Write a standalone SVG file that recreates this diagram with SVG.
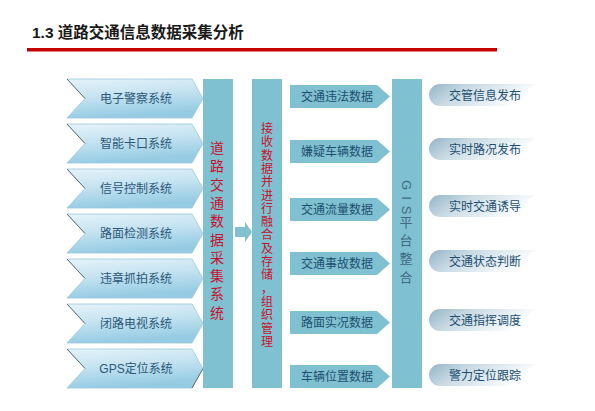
<svg xmlns="http://www.w3.org/2000/svg" width="595" height="411" viewBox="0 0 595 411">
<defs>
<linearGradient id="gChev" x1="0" y1="0" x2="0.25" y2="1">
<stop offset="0" stop-color="#e6f3fa"/>
<stop offset="0.5" stop-color="#c3e2f0"/>
<stop offset="1" stop-color="#95cbe3"/>
</linearGradient>
<linearGradient id="gLeaf" x1="0" y1="0" x2="1" y2="0.3">
<stop offset="0" stop-color="#93b3c6"/>
<stop offset="0.35" stop-color="#c6d9e3"/>
<stop offset="0.8" stop-color="#eef4f7"/>
<stop offset="1" stop-color="#ffffff"/>
</linearGradient>
<style>
text{font-family:"Liberation Sans","Noto Sans CJK SC",sans-serif;}
.bar{fill:#80c1d1;}
.chev{fill:url(#gChev);stroke:#9cc8da;stroke-width:0.8;}
.chevEdge{fill:none;stroke:#4a4a4a;stroke-width:1;opacity:0.75;}
.ct{font-size:12px;fill:#2c5877;text-anchor:middle;}
.pent{fill:#80c1d1;}
.pt{font-size:12px;fill:#1e4f70;text-anchor:middle;}
.leaf{fill:url(#gLeaf);}
.lt{font-size:12px;fill:#1e4f70;text-anchor:middle;}
.rv{font-size:14px;fill:#c8102e;text-anchor:middle;dominant-baseline:central;}
.rv2{font-size:12px;fill:#c8102e;text-anchor:middle;dominant-baseline:central;}
.gv{font-size:13px;fill:#3f6a84;text-anchor:middle;dominant-baseline:central;}
</style>
</defs>
<rect width="595" height="411" fill="#ffffff"/>
<g id="title">
<text x="32" y="37.5" font-size="15.5" font-weight="bold" fill="#1a1a1a">1.3 道路交通信息数据采集分析</text>
<rect x="27" y="48" width="470" height="3.5" fill="#c40000"/>
</g>

<g id="sources">
<g id="s1"><path class="chev" d="M67,79 H192 L203,98.5 L192,118 H67 L85,98.5 Z"/><path class="chevEdge" d="M67,79 L85,98.5"/><text class="ct" x="136" y="103">电子警察系统</text></g>
<g id="s2"><path class="chev" d="M67,124 H192 L203,143.5 L192,163 H67 L85,143.5 Z"/><path class="chevEdge" d="M67,124 L85,143.5"/><text class="ct" x="136" y="148">智能卡口系统</text></g>
<g id="s3"><path class="chev" d="M67,169 H192 L203,188.5 L192,208 H67 L85,188.5 Z"/><path class="chevEdge" d="M67,169 L85,188.5"/><text class="ct" x="136" y="193">信号控制系统</text></g>
<g id="s4"><path class="chev" d="M67,214 H192 L203,233.5 L192,253 H67 L85,233.5 Z"/><path class="chevEdge" d="M67,214 L85,233.5"/><text class="ct" x="136" y="238">路面检测系统</text></g>
<g id="s5"><path class="chev" d="M67,259 H192 L203,278.5 L192,298 H67 L85,278.5 Z"/><path class="chevEdge" d="M67,259 L85,278.5"/><text class="ct" x="136" y="283">违章抓拍系统</text></g>
<g id="s6"><path class="chev" d="M67,304 H192 L203,323.5 L192,343 H67 L85,323.5 Z"/><path class="chevEdge" d="M67,304 L85,323.5"/><text class="ct" x="136" y="328">闭路电视系统</text></g>
<g id="s7"><path class="chev" d="M67,349 H192 L203,368.5 L192,388 H67 L85,368.5 Z"/><path class="chevEdge" d="M67,349 L85,368.5"/><path class="chevEdge" d="M192,388 L203,368.5"/><text class="ct" x="136" y="373">GPS定位系统</text></g>
</g>

<g id="collect">
<rect class="bar" x="203" y="79" width="30" height="309"/>
<text class="rv" x="217" y="148">道</text>
<text class="rv" x="217" y="166.3">路</text>
<text class="rv" x="217" y="184.6">交</text>
<text class="rv" x="217" y="202.9">通</text>
<text class="rv" x="217" y="221.2">数</text>
<text class="rv" x="217" y="239.5">据</text>
<text class="rv" x="217" y="257.8">采</text>
<text class="rv" x="217" y="276.1">集</text>
<text class="rv" x="217" y="294.4">系</text>
<text class="rv" x="217" y="312.7">统</text>
</g>

<g id="connectors">
<path d="M235,227 H245 V222 L252,232 L245,242 V237 H235 Z" fill="#80c1d1"/>
</g>

<g id="fusion">
<rect class="bar" x="252" y="79" width="30" height="309"/>
<text class="rv2" x="267" y="129">接</text>
<text class="rv2" x="267" y="142.3">收</text>
<text class="rv2" x="267" y="155.6">数</text>
<text class="rv2" x="267" y="168.9">据</text>
<text class="rv2" x="267" y="182.2">并</text>
<text class="rv2" x="267" y="195.5">进</text>
<text class="rv2" x="267" y="208.8">行</text>
<text class="rv2" x="267" y="222.1">融</text>
<text class="rv2" x="267" y="235.4">合</text>
<text class="rv2" x="267" y="248.7">及</text>
<text class="rv2" x="267" y="262">存</text>
<text class="rv2" x="267" y="275.3">储</text>
<text class="rv2" x="267" y="288.6">，</text>
<text class="rv2" x="267" y="301.9">组</text>
<text class="rv2" x="267" y="315.2">织</text>
<text class="rv2" x="267" y="328.5">管</text>
<text class="rv2" x="267" y="341.8">理</text>
</g>

<g id="data">
<g id="d1"><path class="pent" d="M290,85 H377 L390,96.5 L377,108 H290 Z"/><text class="pt" x="337" y="101">交通违法数据</text></g>
<g id="d2"><path class="pent" d="M290,140 H377 L390,151.5 L377,163 H290 Z"/><text class="pt" x="337" y="156">嫌疑车辆数据</text></g>
<g id="d3"><path class="pent" d="M290,198 H377 L390,209.5 L377,221 H290 Z"/><text class="pt" x="337" y="214">交通流量数据</text></g>
<g id="d4"><path class="pent" d="M290,252 H377 L390,263.5 L377,275 H290 Z"/><text class="pt" x="337" y="268">交通事故数据</text></g>
<g id="d5"><path class="pent" d="M290,311 H377 L390,322.5 L377,334 H290 Z"/><text class="pt" x="337" y="327">路面实况数据</text></g>
<g id="d6"><path class="pent" d="M290,365 H377 L390,376.5 L377,388 H290 Z"/><text class="pt" x="337" y="381">车辆位置数据</text></g>
</g>

<g id="gis">
<rect class="bar" x="392" y="79" width="30" height="309"/>
<text class="gv" transform="translate(406,185) rotate(90)">G</text>
<text class="gv" transform="translate(406,198) rotate(90)">I</text>
<text class="gv" transform="translate(406,210) rotate(90)">S</text>
<text class="gv" x="406" y="222">平</text>
<text class="gv" x="406" y="240">台</text>
<text class="gv" x="406" y="258">整</text>
<text class="gv" x="406" y="277">合</text>
</g>

<g id="apps">
<g id="a1"><path class="leaf" d="M440,84 H538 C524,88 520,100 530,106 H440 A11,11 0 0 1 440,84 Z"/><text class="lt" x="485" y="100">交管信息发布</text></g>
<g id="a2"><path class="leaf" d="M440,138 H538 C524,142 520,154 530,160 H440 A11,11 0 0 1 440,138 Z"/><text class="lt" x="485" y="154">实时路况发布</text></g>
<g id="a3"><path class="leaf" d="M440,195 H538 C524,199 520,211 530,217 H440 A11,11 0 0 1 440,195 Z"/><text class="lt" x="485" y="211">实时交通诱导</text></g>
<g id="a4"><path class="leaf" d="M440,250 H538 C524,254 520,266 530,272 H440 A11,11 0 0 1 440,250 Z"/><text class="lt" x="485" y="266">交通状态判断</text></g>
<g id="a5"><path class="leaf" d="M440,309 H538 C524,313 520,325 530,331 H440 A11,11 0 0 1 440,309 Z"/><text class="lt" x="485" y="325">交通指挥调度</text></g>
<g id="a6"><path class="leaf" d="M440,364 H538 C524,368 520,380 530,386 H440 A11,11 0 0 1 440,364 Z"/><text class="lt" x="485" y="380">警力定位跟踪</text></g>
</g>
</svg>
